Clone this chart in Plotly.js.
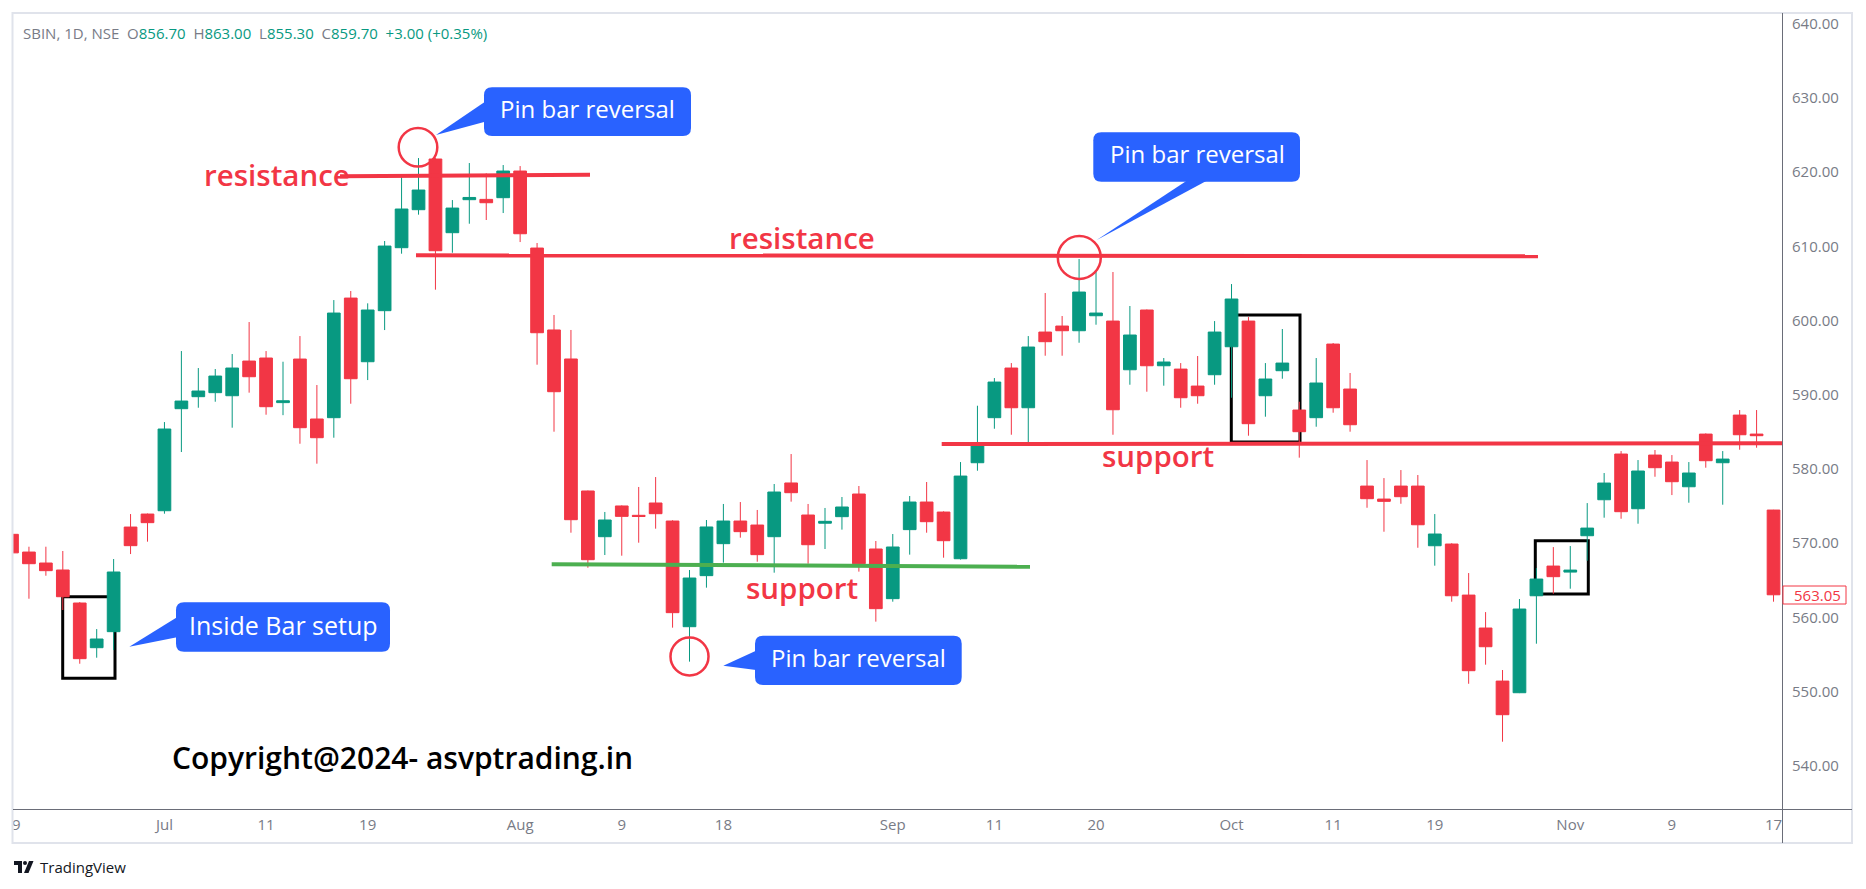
<!DOCTYPE html>
<html><head><meta charset="utf-8">
<script src="https://cdn.plot.ly/plotly-3.0.1.min.js"></script>
<style>html,body{margin:0;padding:0;background:#fff;}#chart{width:1866px;height:889px;}</style>
</head><body><div id="chart"></div>
<script>
// ---- data (SBIN daily) ----
const dates = [
'2023-06-19','2023-06-20','2023-06-21','2023-06-22','2023-06-23','2023-06-26','2023-06-27','2023-06-28','2023-06-30',
'2023-07-03','2023-07-04','2023-07-05','2023-07-06','2023-07-07','2023-07-10','2023-07-11','2023-07-12','2023-07-13','2023-07-14','2023-07-17','2023-07-18','2023-07-19','2023-07-20','2023-07-21','2023-07-24','2023-07-25','2023-07-26','2023-07-27','2023-07-28','2023-07-31',
'2023-08-01','2023-08-02','2023-08-03','2023-08-04','2023-08-07','2023-08-08','2023-08-09','2023-08-10','2023-08-11','2023-08-14','2023-08-16','2023-08-17','2023-08-18','2023-08-21','2023-08-22','2023-08-23','2023-08-24','2023-08-25','2023-08-28','2023-08-29','2023-08-30','2023-08-31',
'2023-09-01','2023-09-04','2023-09-05','2023-09-06','2023-09-07','2023-09-08','2023-09-11','2023-09-12','2023-09-13','2023-09-14','2023-09-15','2023-09-18','2023-09-20','2023-09-21','2023-09-22','2023-09-25','2023-09-26','2023-09-27','2023-09-28','2023-09-29',
'2023-10-03','2023-10-04','2023-10-05','2023-10-06','2023-10-09','2023-10-10','2023-10-11','2023-10-12','2023-10-13','2023-10-16','2023-10-17','2023-10-18','2023-10-19','2023-10-20','2023-10-23','2023-10-25','2023-10-26','2023-10-27','2023-10-30','2023-10-31',
'2023-11-01','2023-11-02','2023-11-03','2023-11-06','2023-11-07','2023-11-08','2023-11-09','2023-11-10','2023-11-12','2023-11-13','2023-11-15','2023-11-16','2023-11-17'];

const open = [571.2,568.81,567.33,566.39,561.94,555.92,558.08,572.18,573.93,574.38,
588.13,589.75,590.29,589.88,594.55,594.96,588.95,594.82,586.74,586.92,
603.04,594.46,601.34,609.83,614.95,621.78,611.85,616.3,616.34,616.57,
620.16,609.78,598.74,594.83,577.04,570.88,575.02,573.76,575.42,572.99,
558.75,565.63,569.94,572.99,572.45,570.88,578.12,573.8,572.7,573.58,
576.63,569.22,562.53,571.83,575.55,574.2,567.91,580.85,586.92,593.61,
588.26,598.46,599.27,598.64,600.66,599.94,593.38,601.43,593.92,593.47,
591.18,592.71,596.48,599.94,589.88,593.25,587.95,586.92,596.84,590.78,
577.7,575.95,577.7,577.7,569.66,569.89,563.01,558.57,551.42,549.85,
562.92,566.92,566.11,571.01,575.86,582.02,574.65,581.88,580.94,577.61,
584.71,580.85,587.27,584.71,574.47];
const high = [572.0,569.53,569.53,568.95,562.07,558.43,567.87,573.93,574.0,586.33,
595.9,593.61,593.48,595.5,599.81,595.9,594.46,597.92,591.32,602.77,
603.99,602.33,610.73,619.49,621.91,621.9,616.25,621.24,619.85,620.97,
620.83,610.46,600.76,598.74,577.1,574.21,575.1,577.58,578.92,573.1,
566.39,573.13,575.29,575.55,574.48,577.98,582.02,575.29,574.75,576.23,
577.71,570.3,571.24,576.36,578.25,574.3,580.94,588.53,592.26,594.28,
597.92,603.72,600.62,608.3,606.82,606.55,601.97,601.5,594.96,594.28,
595.23,599.94,604.93,600.48,594.28,598.87,589.07,594.96,596.98,592.94,
581.21,578.78,579.86,579.19,573.93,570.0,565.98,560.72,552.91,562.48,
566.65,569.48,569.62,575.41,579.46,582.42,581.21,582.56,581.88,580.94,
584.8,582.42,587.95,587.95,574.5];
const low = [568.2,562.52,565.62,561.0,553.76,554.57,555.6,568.54,570.21,573.98,
582.29,588.26,589.07,585.57,590.29,587.32,587.26,583.41,580.72,584.22,
588.8,591.99,598.73,609.02,614.28,604.17,609.15,613.06,613.56,614.5,
610.59,594.06,585.03,571.42,566.7,568.41,568.32,570.07,571.96,558.62,
554.04,564.01,567.38,570.75,567.51,566.03,575.6,567.24,569.22,571.83,
566.17,559.43,562.12,568.46,571.42,568.05,567.8,579.77,585.43,584.62,
583.46,595.27,595.27,597.02,599.45,584.62,591.36,590.42,591.23,588.26,
588.8,591.36,589.61,584.49,587.05,592.17,581.53,585.7,587.59,585.03,
574.78,571.55,575.32,569.39,566.97,562.12,551.06,553.63,543.25,549.8,
556.46,563.19,563.87,567.64,573.44,573.3,572.63,578.96,576.49,575.46,
580.18,575.19,582.6,582.87,562.12];
const close = [568.7,567.24,566.3,562.79,554.44,557.09,566.12,569.67,572.77,585.39,
589.16,590.51,592.53,593.61,592.44,588.4,589.2,585.57,584.22,601.02,
592.17,601.43,610.05,615.04,617.6,609.42,615.17,616.6,615.89,620.16,
611.71,598.37,590.42,573.17,567.78,573.13,573.62,573.6,573.98,560.64,
565.31,572.19,572.99,571.56,568.46,576.9,576.81,569.8,572.95,574.88,
567.24,561.18,569.49,575.55,572.9,570.34,579.05,583.41,591.72,588.26,
596.44,597.16,598.64,603.85,601.02,587.99,598.06,593.92,594.42,589.61,
589.88,598.46,602.91,586.11,592.13,594.28,585.03,591.59,588.26,585.97,
576.0,575.64,576.27,572.49,571.24,562.92,552.82,556.05,546.89,561.13,
565.17,565.49,566.38,572.04,578.11,574.25,579.73,580.18,578.29,579.46,
581.12,581.34,584.62,584.49,563.05];

const tickDates = ['2023-06-19','2023-07-03','2023-07-11','2023-07-19','2023-08-01','2023-08-09','2023-08-18','2023-09-01','2023-09-11','2023-09-20','2023-10-03','2023-10-11','2023-10-19','2023-11-01','2023-11-09','2023-11-17'];
const tickLabels = ['19','Jul','11','19','Aug','9','18','Sep','11','20','Oct','11','19','Nov','9','17'];
const priceTicks = [540,550,560,570,580,590,600,610,620,630,640];
const priceTickText = ['540.00','550.00','560.00','570.00','580.00','590.00','600.00','610.00','620.00','630.00','640.00'];
const lastPrice = '563.05';
const legendParts = [['O','856.70'],['H','863.00'],['L','855.30'],['C','859.70']];
const legendChange = '+3.00 (+0.35%)';

// ---- pixel helpers for the drawn annotations ----
const L=12, R=1782, T=13, B=809, W=R-L, H=B-T;
const px = X => (X-L)/W;
const py = Y => (B-Y)/H;
function rr(x0,y0,x1,y1,r){
  return `M${px(x0+r)},${py(y0)} L${px(x1-r)},${py(y0)} Q${px(x1)},${py(y0)} ${px(x1)},${py(y0+r)} L${px(x1)},${py(y1-r)} Q${px(x1)},${py(y1)} ${px(x1-r)},${py(y1)} L${px(x0+r)},${py(y1)} Q${px(x0)},${py(y1)} ${px(x0)},${py(y1-r)} L${px(x0)},${py(y0+r)} Q${px(x0)},${py(y0)} ${px(x0+r)},${py(y0)} Z`;
}
function poly(pts){ return 'M' + pts.map(p => px(p[0])+','+py(p[1])).join(' L') + ' Z'; }

const RED='#f23645', GREEN='#089981', BLUE='#2962ff', GRAY='#787b86';
const shapes = [];
function pathShape(path, fill, layer){ shapes.push({type:'path', xref:'paper', yref:'paper', path:path, fillcolor:fill, line:{width:0}, layer:layer||'above'}); }
function lineShape(x0,y0,x1,y1,color,w,layer){ shapes.push({type:'line', xref:'paper', yref:'paper', x0:px(x0), y0:py(y0), x1:px(x1), y1:py(y1), line:{color:color, width:w}, layer:layer||'above'}); }
function rectShape(x0,y0,x1,y1,color,w,fill,layer){ shapes.push({type:'rect', xref:'paper', yref:'paper', x0:px(x0), y0:py(y0), x1:px(x1), y1:py(y1), line:{color:color, width:w}, fillcolor:fill||'rgba(0,0,0,0)', layer:layer||'above'}); }
function circleShape(cx,cy,r){ shapes.push({type:'circle', xref:'paper', yref:'paper', x0:px(cx-r), x1:px(cx+r), y0:py(cy+r), y1:py(cy-r), line:{color:RED, width:2.5}, fillcolor:'rgba(0,0,0,0)', layer:'above'}); }

// black setup boxes (below candles)
rectShape(62.7,596.7,115,678.3,'#000',3,null,'below');
rectShape(1231.3,315,1300,442,'#000',3,null,'below');
rectShape(1535.3,540.7,1588.3,594,'#000',3,null,'below');

// price level lines
lineShape(340,176.3,590,174.8,RED,4);
lineShape(416,255.3,1538,256.3,RED,4);
lineShape(551.7,564.3,1030,566.7,'#4caf50',4);
lineShape(941.7,444,1782,443.3,RED,4);

// circles
circleShape(418,147.3,19.3);
circleShape(689.5,656.5,19);
circleShape(1079.3,257.5,21.5);

// callouts
pathShape(rr(176,602.3,390,651.7,8),BLUE);
pathShape(poly([[177,617.3],[129.3,646.7],[177,637.3]]),BLUE);
pathShape(rr(484,87.3,691,136,8),BLUE);
pathShape(poly([[485,101.7],[436,135],[485,121.7]]),BLUE);
pathShape(rr(1093.3,132.3,1300,181.7,8),BLUE);
pathShape(poly([[1186.7,180.7],[1096.7,240],[1206.7,180.7]]),BLUE);
pathShape(rr(755,635.7,961.7,685,8),BLUE);
pathShape(poly([[756,650.7],[723.3,665.7],[756,670]]),BLUE);

// chart frame, mask of clipped first date label, axis lines
rectShape(0,811,12,842,'rgba(0,0,0,0)',0,'#ffffff');
rectShape(12.5,13,1852,843,'#e0e3eb',2);
lineShape(1782.5,13,1782.5,843,'#6a6d78',1);
lineShape(13,809.5,1852,809.5,'#6a6d78',1);
// last price label box
rectShape(1783,586,1846,604,RED,1,'#ffffff');

// TradingView logo
pathShape(poly([[14,861],[22,861],[22,873],[18,873],[18,865],[14,865]]),'#131722');
shapes.push({type:'circle', xref:'paper', yref:'paper', x0:px(23), x1:px(27), y0:py(865), y1:py(861), fillcolor:'#131722', line:{width:0}});
pathShape(poly([[29,861],[33.5,861],[28.5,873],[24,873]]),'#131722');

const FONT='Open Sans';
const ann = [];
function txt(t,X,Y,size,color,opts){ ann.push(Object.assign({text:t, xref:'paper', yref:'paper', x:px(X), y:py(Y), showarrow:false, xanchor:'center', yanchor:'middle', font:{family:FONT, size:size, color:color}}, opts||{})); }

txt('resistance',277,174.7,29,RED,{font:{family:FONT,size:29.5,color:RED,weight:600}});
txt('resistance',802,238,29,RED,{font:{family:FONT,size:29.5,color:RED,weight:600}});
txt('support',802.3,587,29,RED,{font:{family:FONT,size:29.5,color:RED,weight:600}});
txt('support',1158,455.4,29,RED,{font:{family:FONT,size:29.5,color:RED,weight:600}});
txt('Inside Bar setup',283,624.7,25,'#ffffff');
txt('Pin bar reversal',587.5,109,24,'#ffffff');
txt('Pin bar reversal',1197,154,24,'#ffffff');
txt('Pin bar reversal',858,657.4,24,'#ffffff');
txt('Copyright@2024- asvptrading.in',170,757,30,'#000000',{xanchor:'left',font:{family:FONT,size:30,color:'#000',weight:600}});
txt(lastPrice,1792,595,15,RED,{xanchor:'left'});
txt('TradingView',38,867,15,'#131722',{xanchor:'left'});

const NB='\u00a0';
let legend = `<span style="color:${GRAY}">SBIN, 1D, NSE</span>`;
legendParts.forEach(p => { legend += `${NB}${NB}<span style="color:${GRAY}">${p[0]}</span><span style="color:${GREEN}">${p[1]}</span>`; });
legend += `${NB}${NB}<span style="color:${GREEN}">${legendChange}</span>`;
txt(legend,21,33,15,GRAY,{xanchor:'left'});

const trace = {
  type:'candlestick', x:dates, open:open, high:high, low:low, close:close,
  increasing:{line:{color:GREEN,width:1}, fillcolor:GREEN},
  decreasing:{line:{color:RED,width:1}, fillcolor:RED},
  whiskerwidth:0, hoverinfo:'skip'
};

const layout = {
  width:1866, height:889,
  margin:{l:L, r:1866-R, t:T, b:889-B, pad:0},
  paper_bgcolor:'#ffffff', plot_bgcolor:'#ffffff',
  showlegend:false, boxgap:0.25, boxgroupgap:0,
  xaxis:{type:'category', range:[0,104.5], tickvals:tickDates, ticktext:tickLabels,
    showgrid:false, zeroline:false, showline:false, ticks:'', ticklabelstandoff:5,
    tickfont:{family:FONT, size:15, color:GRAY}, rangeslider:{visible:false}, fixedrange:true},
  yaxis:{side:'right', range:[534.18,641.46], tickvals:priceTicks, ticktext:priceTickText,
    showgrid:false, zeroline:false, showline:false, ticks:'', ticklabelstandoff:9,
    tickfont:{family:FONT, size:15, color:GRAY}, fixedrange:true},
  shapes:shapes, annotations:ann
};
Plotly.newPlot('chart',[trace],layout,{displayModeBar:false, staticPlot:true});
</script></body></html>
